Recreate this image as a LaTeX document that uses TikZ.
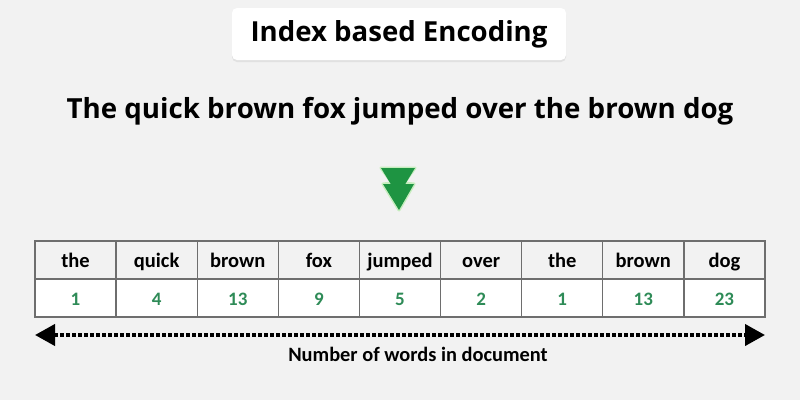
\documentclass[tikz,border=0pt]{standalone}
\usepackage{fontspec}
\setmainfont{Open Sans}
\newfontfamily\tabfont{Carlito}
\usetikzlibrary{shadows,arrows.meta}
\definecolor{bg}{HTML}{F2F2F2}
\definecolor{numgreen}{HTML}{2E8B57}
\definecolor{arrgreen}{HTML}{1E9442}
\definecolor{glow}{HTML}{C6EDBE}
\definecolor{gridc}{HTML}{6E6E6E}
\tikzset{
  cellword/.style={font=\tabfont\bfseries\fontsize{20.5}{20}\selectfont, text=black, anchor=base},
  cellnum/.style={font=\tabfont\bfseries\fontsize{19}{19}\selectfont, text=numgreen, anchor=base},
  tri/.style={fill=arrgreen, draw=glow, line width=3pt, line join=round},
}
\begin{document}
\begin{tikzpicture}[x=1pt,y=-1pt]
\fill[bg] (0,0) rectangle (800,400);
\useasboundingbox (0,0) rectangle (800,400);
% title
\node[draw=none, fill=white, rounded corners=5pt, minimum width=334pt, minimum height=52pt,
  drop shadow={shadow xshift=0pt, shadow yshift=-2pt, opacity=0.15}] (title) at (399,34) {};
\node[font=\bfseries\fontsize{27.6}{27}\selectfont] (titletext) at (399,34) {Index based Encoding};
% sentence
\node[font=\bfseries\fontsize{27.7}{29}\selectfont] (sentence) at (400,111) {The quick brown fox jumped over the brown dog};
% green arrow
\node[inner sep=0pt, minimum size=0pt] (garrow) at (398,190) {};
\draw[glow, line width=3pt, line join=round] (381,168) -- (415,168) -- (404,183) -- (414,184) -- (399,210) -- (383,184) -- (392,183) -- cycle;
\fill[arrgreen] (381,168) -- (415,168) -- (398,196) -- cycle;
\fill[arrgreen] (383,184) -- (414,184) -- (399,210) -- cycle;
% table
\fill[white] (35,279) rectangle (765,317);
\foreach \i/\w [count=\k from 0] in {the/1,quick/4,brown/13,fox/9,jumped/5,over/2,the/1,brown/13,dog/23}{
  \pgfmathsetmacro{\xa}{35+\k*81.11}
  \pgfmathsetmacro{\xc}{\xa+40.55}
  \node[cellword] (w\k) at (\xc,267) {\i};
  \node[cellnum] (n\k) at (\xc,305) {\w};
}
\draw[gridc, line width=1.3pt] (35,241) rectangle (765,317);
\draw[gridc, line width=1.3pt] (35,279) -- (765,279);
\foreach \k in {1,...,8}{
  \draw[gridc, line width=1.3pt] ({35+\k*81.11},241) -- ({35+\k*81.11},317);
}
% bottom arrow
\coordinate (aleft) at (35,335);
\coordinate (aright) at (765,335);
\draw[line width=4pt, dash pattern=on 3.5pt off 2.5pt, {Triangle[length=20pt,width=21pt]}-{Triangle[length=20pt,width=21pt]}] (aleft) -- (aright);
\node[font=\tabfont\bfseries\fontsize{20.4}{20}\selectfont] (label) at (418,354) {Number of words in document};
\end{tikzpicture}
\end{document}
